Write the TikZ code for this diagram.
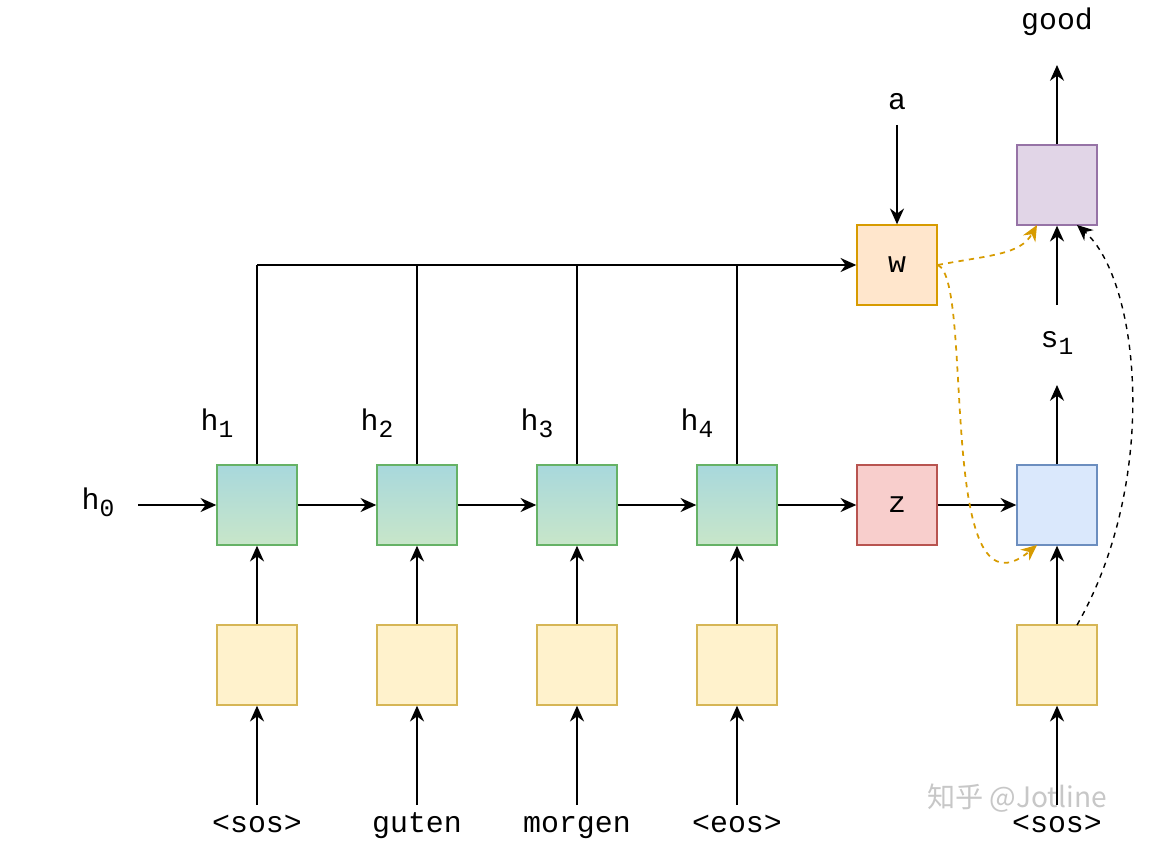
\documentclass[tikz,border=0pt]{standalone}
\usepackage{fontspec}
\setmainfont{Liberation Mono}
\newfontfamily\cjk{Noto Sans CJK SC}
\usetikzlibrary{arrows.meta}
\newcommand{\mysub}[1]{\raisebox{-0.45ex}{\fontsize{14}{16}\selectfont #1}}
\begin{document}
\begin{tikzpicture}[x=0.02cm,y=-0.02cm,
  box/.style={draw,minimum size=1.6cm,inner sep=0pt,line width=0.8pt},
  enc/.style={box,draw=green!50!black!60,top color={rgb,255:red,168;green,216;blue,220},bottom color={rgb,255:red,200;green,230;blue,201}},
  emb/.style={box,draw={rgb,255:red,214;green,182;blue,86},fill={rgb,255:red,255;green,242;blue,204}},
  lbl/.style={font=\fontsize{17}{20}\selectfont},
  arr/.style={-{Stealth[length=9pt,width=8pt]},line width=0.9pt},
  od/.style={arr,dashed,draw={rgb,255:red,215;green,155;blue,0},line width=1pt}]
\useasboundingbox (0,0) rectangle (1160,848);
\node[font=\cjk\fontsize{16}{20}\selectfont,text=black!22] (wm) at (1017,798) {知乎 @Jotline};
\foreach \i/\x/\t in {1/257/<sos>,2/417/guten,3/577/morgen,4/737/<eos>}{
  \node[enc] (e\i) at (\x,505) {};
  \node[emb] (m\i) at (\x,665) {};
  \node[lbl,anchor=base] (t\i) at (\x,832) {\t};
  \node[lbl] (h\i) at (\x-40,423) {h\mysub{\i}};
  \draw[arr] (\x,805) -- (m\i.south);
  \draw[arr] (m\i.north) -- (e\i.south);
  \coordinate (top\i) at (\x,265);
}
\node[lbl] (h0) at (98,502) {h\mysub{0}};
\node[box,draw={rgb,255:red,184;green,84;blue,80},fill={rgb,255:red,248;green,206;blue,204},lbl] (z) at (897,505) {z};
\node[box,draw={rgb,255:red,215;green,155;blue,0},fill={rgb,255:red,255;green,230;blue,204},lbl] (w) at (897,265) {w};
\node[box,draw={rgb,255:red,108;green,142;blue,191},fill={rgb,255:red,218;green,232;blue,252}] (d) at (1057,505) {};
\node[emb] (dm) at (1057,665) {};
\node[box,draw={rgb,255:red,150;green,115;blue,166},fill={rgb,255:red,225;green,213;blue,231}] (p) at (1057,185) {};
\node[lbl,anchor=base] (dt) at (1057,832) {<sos>};
\node[lbl] (a) at (897,102) {a};
\node[lbl] (good) at (1057,22) {good};
\node[lbl] (s1) at (1057,343) {s\mysub{1}};
\coordinate (s1top) at (1057,305);
\coordinate (dup) at (1057,385);
\coordinate (gtop) at (1057,65);
\draw[arr] (138,505) -- (e1.west);
\draw[arr] (e1) -- (e2); \draw[arr] (e2) -- (e3); \draw[arr] (e3) -- (e4);
\draw[arr] (e4) -- (z); \draw[arr] (z) -- (d);
\foreach \i in {1,2,3,4} \draw[line width=0.9pt] (e\i.north) -- (top\i);
\draw[arr] (top1) -- (w.west);
\draw[arr] (897,125) -- (w.north);
\draw[arr] (1057,805) -- (dm.south);
\draw[arr] (dm.north) -- (d.south);
\draw[arr] (d.north) -- (dup);
\draw[arr] (s1top) -- (p.south);
\draw[arr] (p.north) -- (gtop);
\draw[od] (w.east) .. controls (990,255) and (1020,255) .. (1037,225);
\draw[od] (w.east) .. controls (975,280) and (935,630) .. (1037,545);
\draw[arr,dashed,line width=0.8pt] (1077,625) .. controls (1160,480) and (1140,280) .. (1077,225);
\end{tikzpicture}
\end{document}
